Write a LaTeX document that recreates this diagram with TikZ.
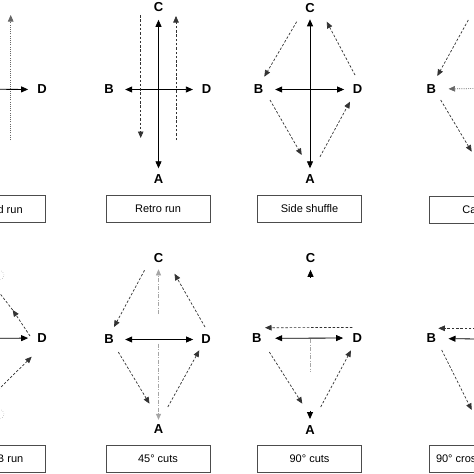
\documentclass[tikz,border=0pt]{standalone}
\usepackage{fontspec}
\setmainfont{Liberation Sans}
\usetikzlibrary{arrows.meta,calc}

\begin{document}
\begin{tikzpicture}[x=1pt, y=-1pt,
  lbl/.style={font=\fontsize{13}{13}\selectfont\bfseries, inner sep=0pt},
  caption/.style={draw=black!70, line width=0.8pt, minimum width=104pt, minimum height=27pt, inner sep=0pt, font=\fontsize{11}{11}\selectfont},
  mainarrow/.style={line width=0.8pt, -{Triangle[length=7pt,width=6pt]}},
  bothway/.style={mainarrow, {Triangle[length=7pt,width=6pt]}-{Triangle[length=7pt,width=6pt]}},
  dsh/.style={black!80, line width=0.7pt, dash pattern=on 2.5pt off 1.8pt},
  dsharrow/.style={dsh, -{Triangle[length=6.5pt,width=5.5pt]}},
  dotarrow/.style={black!60, line width=0.6pt, dash pattern=on 1pt off 1.2pt, -{Triangle[length=6.5pt,width=5.5pt]}},
  faint/.style={black!35, line width=0.6pt, dash pattern=on 4pt off 1.5pt on 1pt off 1.5pt},
  cone/.style={circle, draw=black!50, dotted, minimum size=10pt, inner sep=0pt}]
  \useasboundingbox (0,0) rectangle (474,474);
  \fill[white] (0,0) rectangle (474,474);
  \clip (0,0) rectangle (474,474);

  % Forward run
  \node[lbl] (frD) at (42,89.5) {D};
  \coordinate (frW) at (-5,89.3);
  \coordinate (frS) at (10.7,140);
  \coordinate (frN) at (10.7,15);
  \draw[mainarrow, shorten >=9pt] (frW) -- (frD);
  \draw[dotarrow] (frS) -- (frN);
  \node[caption] (frBox) at (-7,209.2) {Forward run};

  % Retro run
  \node[lbl] (rrC) at (158.5,7.5) {C};
  \node[lbl] (rrB) at (109,89.5) {B};
  \node[lbl] (rrD) at (206.5,89.5) {D};
  \node[lbl] (rrA) at (158.5,179) {A};
  \draw[bothway, shorten <=7.5pt, shorten >=6pt] (rrC) -- (rrA);
  \draw[bothway, shorten <=11.3pt, shorten >=8.7pt] (rrB) -- (rrD);
  \draw[dsharrow] ($(rrC)+(-17.8,7.5)$) -- ($(rrA)+(-17.8,-41)$);
  \draw[dsharrow] ($(rrA)+(17.5,-39)$) -- ($(rrC)+(17.5,8.5)$);
  \node[caption] (rrBox) at (158,209) {Retro run};

  % Side shuffle
  \node[lbl] (ssC) at (310,8) {C};
  \node[lbl] (ssB) at (258.5,89.5) {B};
  \node[lbl] (ssD) at (357.5,89.5) {D};
  \node[lbl] (ssA) at (310,179) {A};
  \draw[bothway, shorten <=6.5pt, shorten >=6pt] (ssC) -- (ssA);
  \draw[bothway, shorten <=11.8pt, shorten >=8.5pt] (ssB) -- (ssD);
  \draw[dsharrow] ($(ssC)+(-13.3,13.7)$) -- ($(ssB)+(5.8,-12.8)$);
  \draw[dsharrow] ($(ssB)+(11.5,10.5)$) -- ($(ssA)+(-8.3,-24)$);
  \draw[dsharrow] ($(ssA)+(10,-22.3)$) -- ($(ssD)+(-7.5,12.2)$);
  \draw[dsharrow] ($(ssD)+(-2.5,-14.5)$) -- ($(ssC)+(16.7,13.7)$);
  \node[caption] (ssBox) at (309.5,209) {Side shuffle};

  % Carioca
  \node[lbl] (caB) at (431.3,89) {B};
  \coordinate (caE) at (480,88.6);
  \draw[dsharrow] ($(caB)+(37,-69)$) -- ($(caB)+(6,-13)$);
  \draw[dotarrow, shorten >=12.3pt] (caE) -- (caB);
  \draw[dsharrow] ($(caB)+(9.4,11)$) -- ($(caB)+(40.4,62.7)$);
  \node[caption] (caBox) at (481.3,209.5) {Carioca};

  % A-D-C-B run
  \node[lbl] (abD) at (42,338) {D};
  \node[cone] (abC) at (-1,275) {};
  \node[cone] (abA) at (-1,414) {};
  \coordinate (abW) at (-5,338.3);
  \draw[mainarrow, shorten >=9pt] (abW) -- (abD);
  \draw[dsharrow] ($(abD)+(-12,-2)$) -- ($(abD)+(-29.3,-28)$);
  \draw[dsh] ($(abD)+(-29.3,-28)$) -- ($(abD)+(-44,-47)$);
  \draw[dsharrow] ($(abA)+(-1,-24)$) -- ($(abD)+(-10.3,18.7)$);
  \node[caption] (abBox) at (-7,458.5) {A-D-C-B run};

  % 45 degree cuts
  \node[lbl] (ctC) at (158.5,258) {C};
  \node[lbl] (ctB) at (109,339.5) {B};
  \node[lbl] (ctD) at (206,339.5) {D};
  \node[lbl] (ctA) at (158.5,429.5) {A};
  \draw[faint, -{Triangle[length=6pt,width=5pt]}, shorten >=6.5pt] ($(ctC)+(0,56)$) -- (ctC);
  \draw[faint, -{Triangle[length=6pt,width=5pt]}, shorten >=5pt] ($(ctA)+(0,-86)$) -- (ctA);
  \draw[bothway, shorten <=11.3pt, shorten >=8pt] (ctB) -- (ctD);
  \draw[dsharrow] ($(ctC)+(-14,12.3)$) -- ($(ctB)+(5,-12.5)$);
  \draw[dsharrow] ($(ctB)+(9.3,12.5)$) -- ($(ctA)+(-9,-25.8)$);
  \draw[dsharrow] ($(ctA)+(9.3,-22.5)$) -- ($(ctD)+(-6.7,10.8)$);
  \draw[dsharrow] ($(ctD)+(-1,-12.5)$) -- ($(ctC)+(16,15.7)$);
  \node[caption] (ctBox) at (158,458.7) {45° cuts};

  % 90 degree cuts
  \node[lbl] (ncC) at (310.5,258) {C};
  \node[lbl] (ncB) at (256.7,338.3) {B};
  \node[lbl] (ncD) at (357.3,338) {D};
  \node[lbl] (ncA) at (310,429.7) {A};
  \draw[mainarrow, shorten >=7pt] ($(ncC)+(0,19)$) -- (ncC);
  \draw[mainarrow, shorten >=6pt] ($(ncA)+(0,-19)$) -- (ncA);
  \draw[dsharrow] ($(ncD)+(-5,-10.5)$) -- ($(ncB)+(8.3,-10.6)$);
  \draw[bothway, shorten <=13.6pt, shorten >=9.3pt] (ncB) -- (ncD);
  \draw[faint] ($(ncA)+(0,-90.7)$) -- ($(ncA)+(0,-57.7)$);
  \draw[dsharrow] ($(ncB)+(12.6,13.7)$) -- ($(ncA)+(-7.7,-26)$);
  \draw[dsharrow] ($(ncA)+(10.7,-22.7)$) -- ($(ncD)+(-6.3,12.3)$);
  \node[caption] (ncBox) at (309.5,458.5) {90° cuts};

  % 90 degree crossover cuts
  \node[lbl] (xcB) at (431.3,338.5) {B};
  \coordinate (xcE) at (480,328.3);
  \coordinate (xcF) at (480,339);
  \draw[dsharrow] (xcE) -- ($(xcB)+(7,-10.2)$);
  \draw[mainarrow, shorten >=12.3pt] (xcF) -- (xcB);
  \draw[dsharrow] ($(xcB)+(10.4,11.5)$) -- ($(xcB)+(40.4,71.5)$);
  \node[caption] (xcBox) at (481.3,458.4) {90° crossover cuts};
\end{tikzpicture}
\end{document}
